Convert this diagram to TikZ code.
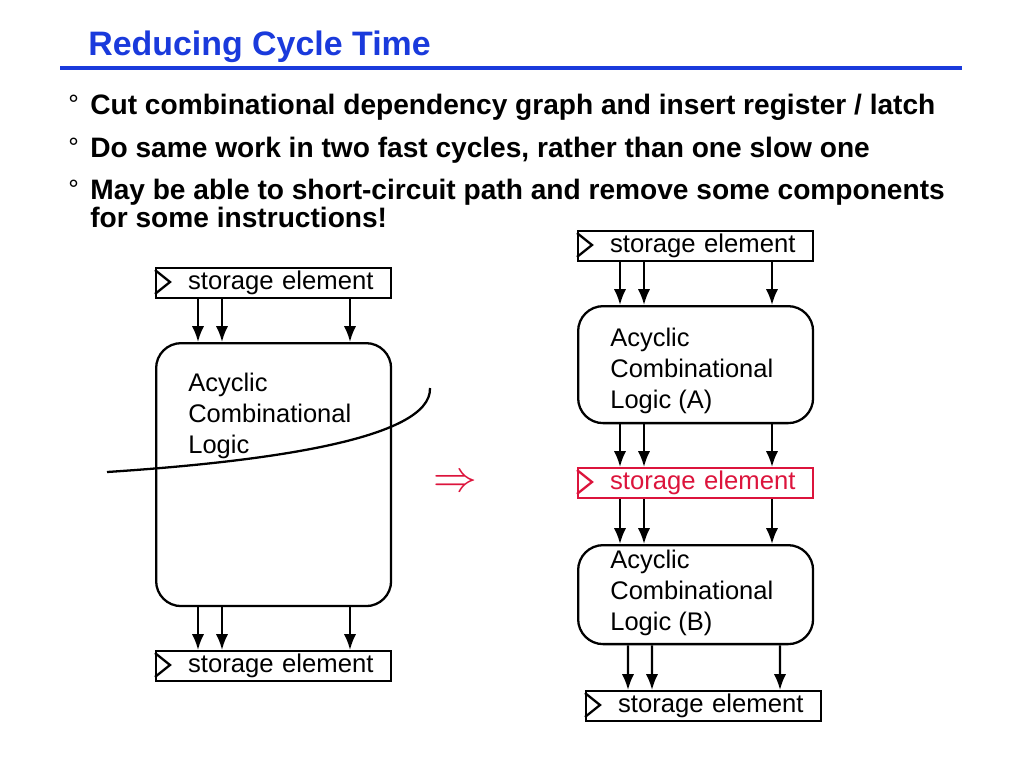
\documentclass[tikz,border=0pt]{standalone}
\usepackage{fontspec}
\setmainfont{Liberation Sans}
\usetikzlibrary{arrows.meta}

\definecolor{titleblue}{RGB}{26,58,220}
\definecolor{regred}{RGB}{220,20,60}

\tikzset{
  store/.style={draw, line width=1.3pt, text width=4.7cm, minimum height=0.6cm,
    inner sep=0pt, align=left, font=\fontsize{14.6}{16}\selectfont},
  logic/.style={draw, line width=1.3pt, rounded corners=0.5cm, minimum width=4.7cm, inner sep=0pt},
  txt/.style={align=left, anchor=north west, inner sep=0pt, font=\fontsize{14.5}{17.5}\selectfont},
  bullet/.style={anchor=west, inner sep=0pt, font=\bfseries\fontsize{16}{14}\selectfont},
  wire/.style={-{Latex[length=9pt,width=7pt]}, line width=1.3pt},
  clk/.style={line width=1.3pt}
}

\begin{document}
\begin{tikzpicture}[x=0.02cm,y=-0.02cm]
\useasboundingbox (0,0) rectangle (1024,768);
% title
\node[anchor=west, inner sep=0pt, text=titleblue, font=\bfseries\fontsize{19.3}{20}\selectfont] (title) at (88,47) {Reducing Cycle Time};
\draw[titleblue, line width=2pt] (60,68) -- (962,68);
% bullets
\foreach \y/\t in {107/{Cut combinational dependency graph and insert register / latch},
                   150/{Do same work in two fast cycles, rather than one slow one},
                   192/{May be able to short-circuit path and remove some components}} {
  \node[bullet] at (68,\y-3) {\normalfont\fontsize{15}{14}\selectfont°};
  \node[bullet] at (90,\y) {\t};
}
\node[bullet] (last) at (90,217) {for some instructions!};

% left side
\node[store, anchor=north west] (s1) at (155,267) {\hspace*{0.64cm}storage element};
\node[logic, anchor=north west, minimum height=5.26cm] (c1) at (155,342) {};
\node[txt] (t1) at (188,373) {Acyclic\\Combinational\\Logic};
\node[store, anchor=north west] (s2) at (155,650) {\hspace*{0.64cm}storage element};
\foreach \d in {43,67,195} {
  \draw[wire] ([xshift=\d*0.02cm]s1.south west) -- ([xshift=\d*0.02cm]c1.north west);
  \draw[wire] ([xshift=\d*0.02cm]c1.south west) -- ([xshift=\d*0.02cm]s2.north west);
}
\foreach \s in {s1,s2}
  \draw[clk] ([yshift=-0.06cm]\s.north west) -- ++(0.3cm,-0.24cm) -- ++(-0.3cm,-0.24cm);
% cut line
\draw[line width=1.3pt] (107,472) .. controls (260,462) and (432,440) .. (430,388);

% implies
\node[text=regred, font=\fontsize{34}{34}\selectfont, inner sep=0pt] (imp) at (455,483) {$\Rightarrow$};

% right side
\node[store, anchor=north west] (r1) at (577,230) {\hspace*{0.64cm}storage element};
\node[logic, anchor=north west, minimum height=2.34cm] (ca) at (577,305) {};
\node[txt] (ta) at (610,328) {Acyclic\\Combinational\\Logic (A)};
\node[store, anchor=north west, draw=regred, text=regred] (r2) at (577,467) {\hspace*{0.64cm}storage element};
\node[logic, anchor=north west, minimum height=1.98cm] (cb) at (577,544) {};
\node[txt] (tb) at (610,550) {Acyclic\\Combinational\\Logic (B)};
\node[store, anchor=north west] (r3) at (585,690) {\hspace*{0.64cm}storage element};
\foreach \d in {43,67,195} {
  \draw[wire] ([xshift=\d*0.02cm]r1.south west) -- ([xshift=\d*0.02cm]ca.north west);
  \draw[wire] ([xshift=\d*0.02cm]ca.south west) -- ([xshift=\d*0.02cm]r2.north west);
  \draw[wire] ([xshift=\d*0.02cm]r2.south west) -- ([xshift=\d*0.02cm]cb.north west);
  \draw[wire] ([xshift=\d*0.02cm+0.16cm]cb.south west) -- ([xshift=\d*0.02cm]r3.north west);
}
\foreach \s in {r1,r3}
  \draw[clk] ([yshift=-0.06cm]\s.north west) -- ++(0.3cm,-0.24cm) -- ++(-0.3cm,-0.24cm);
\draw[clk, regred] ([yshift=-0.06cm]r2.north west) -- ++(0.3cm,-0.24cm) -- ++(-0.3cm,-0.24cm);
\end{tikzpicture}
\end{document}
